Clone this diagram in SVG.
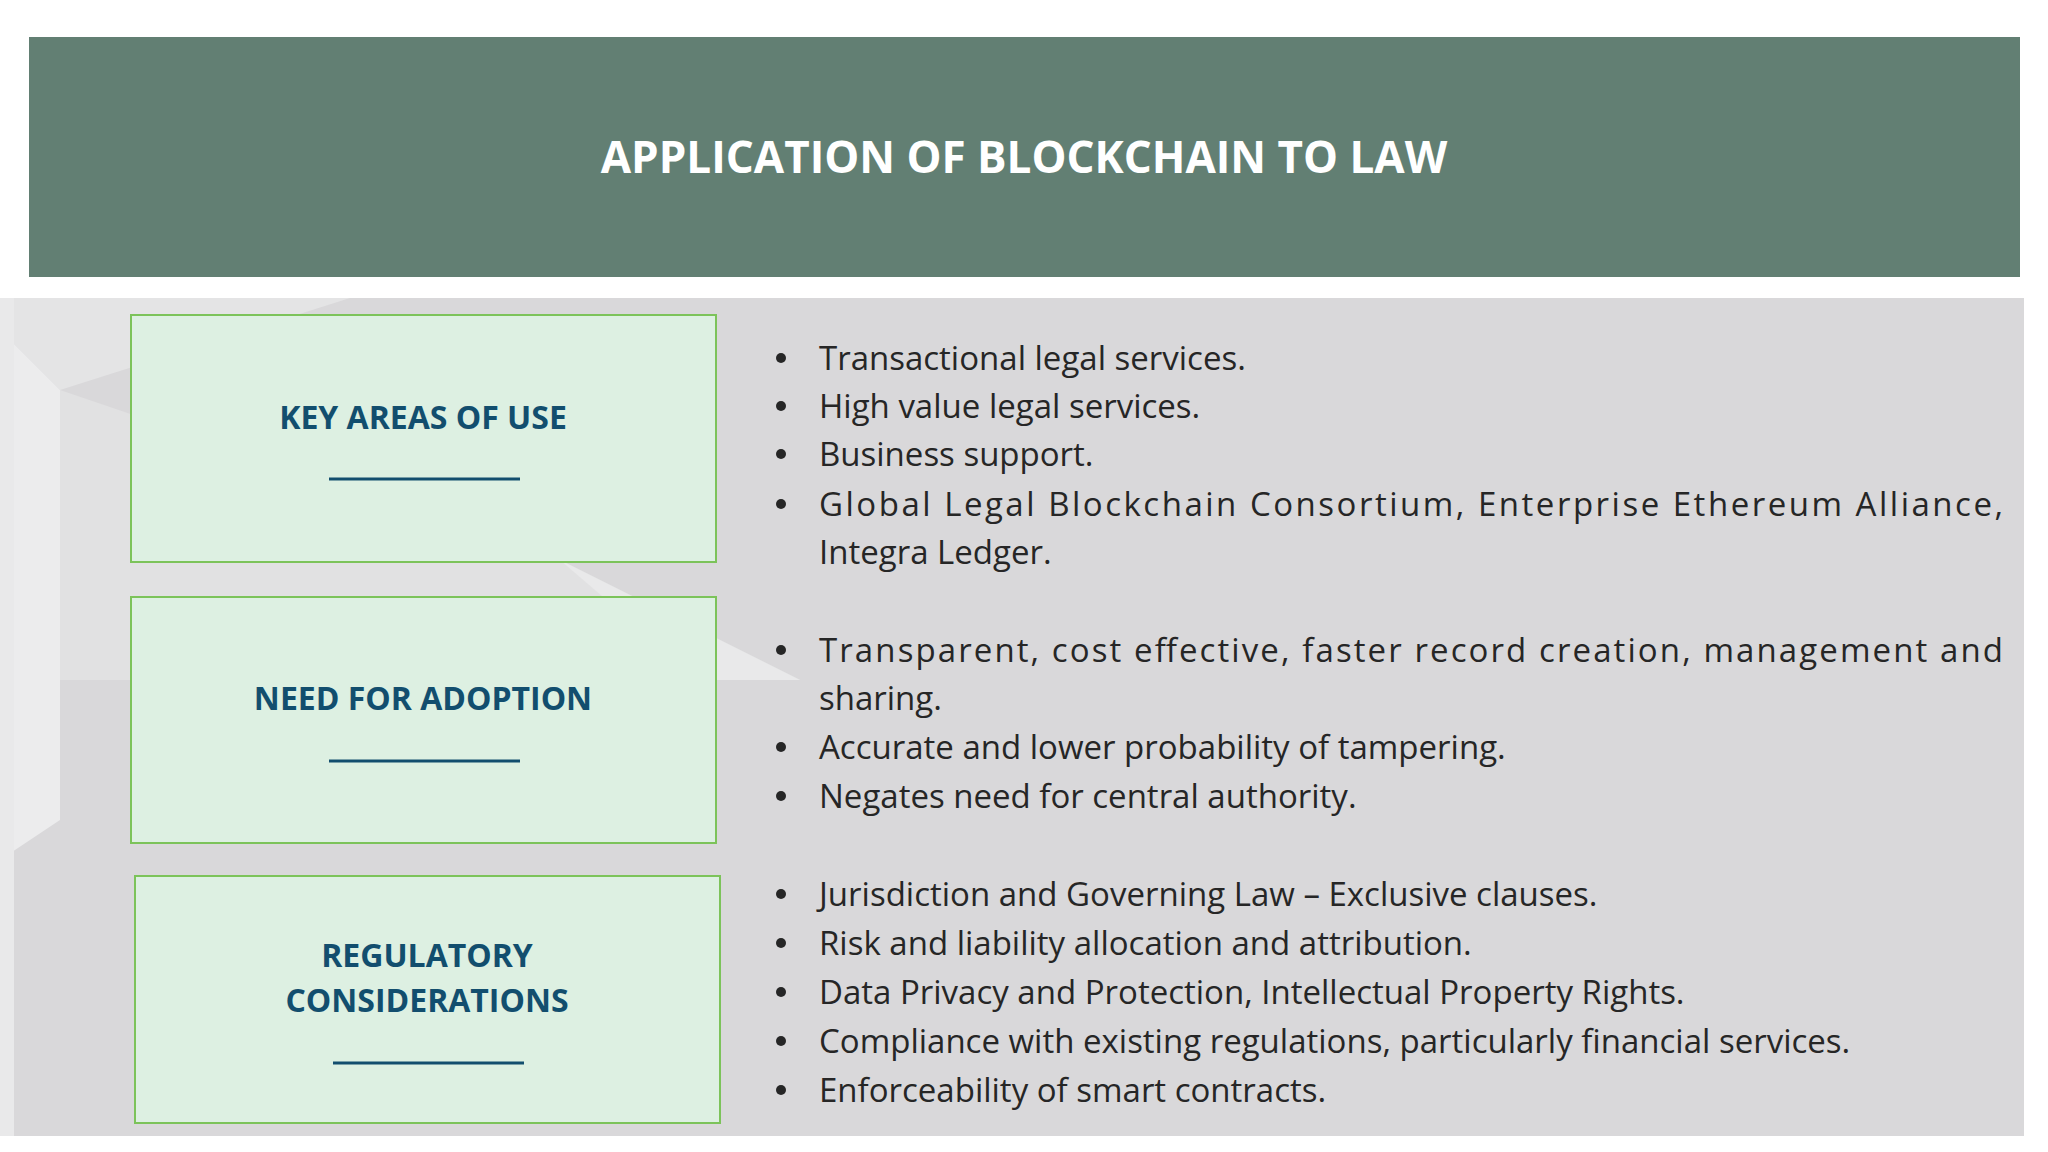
<svg xmlns="http://www.w3.org/2000/svg" width="2048" height="1152" viewBox="0 0 2048 1152">
<style>
.lbl{font-family:"Open Sans","Liberation Sans",sans-serif;font-weight:bold;font-size:32px;fill:#124e6e;text-anchor:middle}
.box{fill:#ddf0e2;stroke:#7cc35a;stroke-width:2}
.ul{stroke:#124e6e;stroke-width:3}
.b{font-family:"Open Sans","Liberation Sans",sans-serif;font-size:33px;fill:#262626}
.dot{fill:#262626}
</style>
<rect width="2048" height="1152" fill="#ffffff"/>
<g id="header">
<rect x="29" y="37" width="1991" height="240" fill="#627f73"/>
<text x="1024" y="173" font-family="Open Sans, Liberation Sans, sans-serif" font-weight="bold" font-size="44" fill="#ffffff" text-anchor="middle">APPLICATION OF BLOCKCHAIN TO LAW</text>
</g>
<g id="panel">
<rect x="0" y="298" width="2024" height="838" fill="#d9d8da"/>
<polygon points="0,298 350,298 60,390 0,330" fill="#e4e4e5"/>
<polygon points="0,330 60,390 60,820 0,860" fill="#ececed"/>
<polygon points="60,390 560,560 800,680 60,680" fill="#e1e1e2"/>
<polygon points="560,560 800,680 700,680" fill="#e9e9ea"/>
<rect x="0" y="298" width="14" height="838" fill="#e9e9ea"/>
</g>
<g id="node-key">
<rect class="box" x="131" y="315" width="585" height="247"/>
<text class="lbl" x="423" y="429">KEY AREAS OF USE</text>
<line class="ul" x1="329" y1="479" x2="520" y2="479"/>
</g>
<g id="node-need">
<rect class="box" x="131" y="597" width="585" height="246"/>
<text class="lbl" x="423" y="710">NEED FOR ADOPTION</text>
<line class="ul" x1="329" y1="761" x2="520" y2="761"/>
</g>
<g id="node-reg">
<rect class="box" x="135" y="876" width="585" height="247"/>
<text class="lbl" x="427" y="967">REGULATORY</text>
<text class="lbl" x="427" y="1012">CONSIDERATIONS</text>
<line class="ul" x1="333" y1="1063" x2="524" y2="1063"/>
</g>
<g id="bullets">
<g class="dot">
<circle cx="781" cy="358" r="5"/><circle cx="781" cy="406" r="5"/><circle cx="781" cy="454" r="5"/><circle cx="781" cy="504" r="5"/>
<circle cx="781" cy="650" r="5"/><circle cx="781" cy="747" r="5"/><circle cx="781" cy="796" r="5"/>
<circle cx="781" cy="894" r="5"/><circle cx="781" cy="943" r="5"/><circle cx="781" cy="992" r="5"/><circle cx="781" cy="1041" r="5"/><circle cx="781" cy="1090" r="5"/>
</g>
<text class="b" x="819" y="370">Transactional legal services.</text>
<text class="b" x="819" y="418">High value legal services.</text>
<text class="b" x="819" y="466">Business support.</text>
<text class="b" x="819" y="516" textLength="1184" lengthAdjust="spacing">Global Legal Blockchain Consortium, Enterprise Ethereum Alliance,</text>
<text class="b" x="819" y="564">Integra Ledger.</text>
<text class="b" x="819" y="662" textLength="1184" lengthAdjust="spacing">Transparent, cost effective, faster record creation, management and</text>
<text class="b" x="819" y="710">sharing.</text>
<text class="b" x="819" y="759">Accurate and lower probability of tampering.</text>
<text class="b" x="819" y="808">Negates need for central authority.</text>
<text class="b" x="819" y="906">Jurisdiction and Governing Law – Exclusive clauses.</text>
<text class="b" x="819" y="955">Risk and liability allocation and attribution.</text>
<text class="b" x="819" y="1004">Data Privacy and Protection, Intellectual Property Rights.</text>
<text class="b" x="819" y="1053">Compliance with existing regulations, particularly financial services.</text>
<text class="b" x="819" y="1102">Enforceability of smart contracts.</text>
</g>
</svg>
